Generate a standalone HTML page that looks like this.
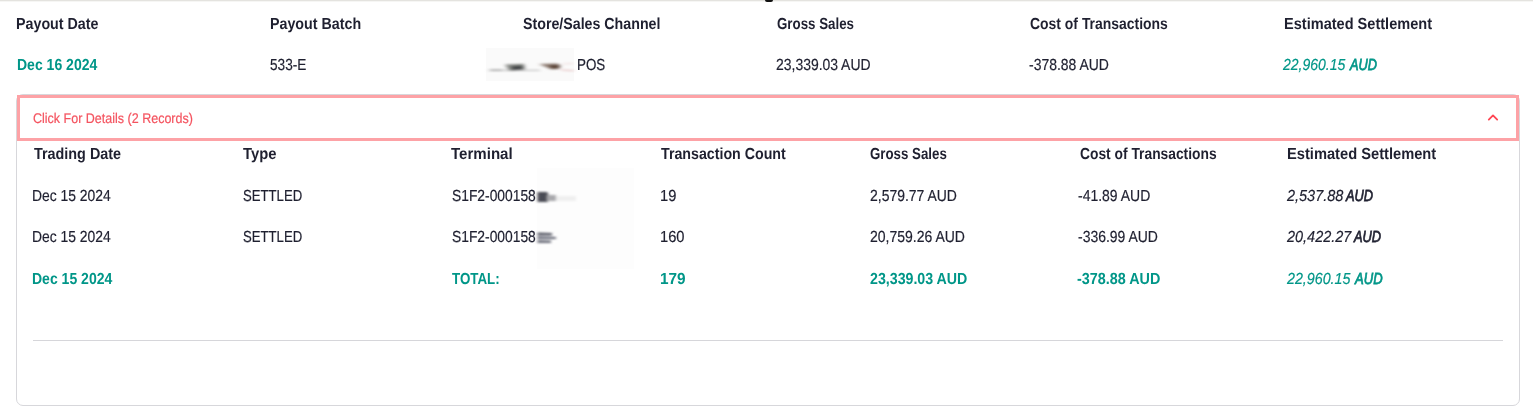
<!DOCTYPE html>
<html><head><meta charset="utf-8"><style>
html,body{margin:0;padding:0;background:#fff;}
body{width:1533px;height:412px;position:relative;overflow:hidden;font-family:"Liberation Sans",sans-serif;text-rendering:geometricPrecision;}
span{position:absolute;white-space:nowrap;transform-origin:0 0;}
.rg{-webkit-text-stroke:0.2px currentColor;}
.sb{-webkit-text-stroke:0.75px currentColor;}
.topbar{position:absolute;left:0;top:0;width:1533px;height:1px;background:#e4e3df;}
.topbar2{position:absolute;left:0;top:1px;width:1533px;height:1px;background:#f6f6f4;}
.blk{position:absolute;left:765px;top:0;width:8px;height:2px;background:#111;border-radius:0 0 2px 2px;}
.card{position:absolute;left:16px;top:94px;width:1502px;height:310px;border:1px solid #d7d7db;border-radius:7px;}
.pink{position:absolute;left:17px;top:95px;width:1496px;height:40px;border:3px solid #fda2a6;}
.hr{position:absolute;left:33px;top:340px;width:1470px;height:1px;background:#d6d6da;}
.blur1{position:absolute;left:486px;top:48px;width:88px;height:33px;background:#fafafa;}
.blur2{position:absolute;left:537px;top:168px;width:97px;height:101px;background:#fdfdfd;}
</style></head><body>
<div class="topbar"></div><div class="topbar2"></div><div class="blk"></div>
<div class="card"></div>
<div class="pink"></div>
<div class="blur1"></div>
<div class="blur2"></div>
<div class="hr"></div>
<svg style="position:absolute;left:0;top:0" width="1533" height="412">
 <polyline points="1488.8,119.6 1493,115.4 1497.2,119.6" fill="none" stroke="#ff4552" stroke-width="1.8" stroke-linecap="round" stroke-linejoin="round"/>
 <!-- blurred logo in row 2 -->
 <g filter="url(#bl)">
  <path d="M489,70.3 L540,70.3" stroke="#c4c4c4" stroke-width="1.2"/>
  <path d="M490,70.2 L502,70.2" stroke="#a0a0a0" stroke-width="1.4"/>
  <path d="M505,64.5 L524,63.8 L525,69.5 L509,70.8 Z" fill="#8a8c88"/>
  <path d="M511,66 L523,65.5 L523,69.8 L512,70.2 Z" fill="#44474a"/>
  <path d="M539,64 L557,63.4 L561,65.5 L559,69 L551,69.2 Z" fill="#8c7a70"/>
  <path d="M549,65 L559,64.8 L559,68.6 L551,68.8 Z" fill="#5c4438"/>
  <path d="M561,69.8 L574,70.8" stroke="#e2b8b8" stroke-width="1"/>
  <path d="M563,64 L573,63.5" stroke="#eedada" stroke-width="1"/>
 </g>
 <g filter="url(#bl2)">
  <path d="M537.5,192 L547,192 L549,195 L548,202 L537.5,202 Z" fill="#4a4b55"/>
  <path d="M547,195 L556,195 L556,201 L547,201 Z" fill="#a8a8ac"/>
  <path d="M556,196 L576,196 L576,201 L556,201 Z" fill="#efefef"/>
  <path d="M537.5,232.5 L552,233 L552,235.5 L537.5,235.5 Z" fill="#5a5c68"/>
  <path d="M537.5,236.5 L556,237 L556,239 L537.5,239 Z" fill="#646674"/>
  <path d="M537.5,240 L551,240.5 L551,243 L537.5,243 Z" fill="#70727e"/>
 </g>
 <defs><filter id="bl" x="-20%" y="-50%" width="140%" height="200%"><feGaussianBlur stdDeviation="1.9 0.9"/></filter><filter id="bl2" x="-20%" y="-50%" width="140%" height="200%"><feGaussianBlur stdDeviation="1.4 0.9"/></filter></defs>
</svg>
<span id="h1" style="left:16.00px;top:17.01px;font-size:16px;line-height:16px;font-weight:700;font-style:normal;color:#1f2030;transform:scaleX(0.8918)">Payout Date</span>
<span id="h2" style="left:269.60px;top:17.01px;font-size:16px;line-height:16px;font-weight:700;font-style:normal;color:#1f2030;transform:scaleX(0.8910)">Payout Batch</span>
<span id="h3" style="left:523.20px;top:17.01px;font-size:16px;line-height:16px;font-weight:700;font-style:normal;color:#1f2030;transform:scaleX(0.8882)">Store/Sales Channel</span>
<span id="h4" style="left:777.20px;top:17.01px;font-size:16px;line-height:16px;font-weight:700;font-style:normal;color:#1f2030;transform:scaleX(0.8320)">Gross Sales</span>
<span id="h5" style="left:1030.20px;top:17.01px;font-size:16px;line-height:16px;font-weight:700;font-style:normal;color:#1f2030;transform:scaleX(0.8712)">Cost of Transactions</span>
<span id="h6" style="left:1283.60px;top:17.01px;font-size:16px;line-height:16px;font-weight:700;font-style:normal;color:#1f2030;transform:scaleX(0.9095)">Estimated Settlement</span>
<span id="r1" style="left:16.60px;top:58.01px;font-size:16px;line-height:16px;font-weight:700;font-style:normal;color:#009688;transform:scaleX(0.8761)">Dec 16 2024</span>
<span id="r2" class="rg" style="left:269.80px;top:58.01px;font-size:16px;line-height:16px;font-weight:400;font-style:normal;color:#1f2030;transform:scaleX(0.8509)">533-E</span>
<span id="r3" class="rg" style="left:576.60px;top:58.01px;font-size:16px;line-height:16px;font-weight:400;font-style:normal;color:#1f2030;transform:scaleX(0.8358)">POS</span>
<span id="r4" class="rg" style="left:776.40px;top:58.01px;font-size:16px;line-height:16px;font-weight:400;font-style:normal;color:#1f2030;transform:scaleX(0.8713)">23,339.03 AUD</span>
<span id="r5" class="rg" style="left:1029.40px;top:58.01px;font-size:16px;line-height:16px;font-weight:400;font-style:normal;color:#1f2030;transform:scaleX(0.8717)">-378.88 AUD</span>
<span id="r6n" class="rg" style="left:1283.00px;top:58.01px;font-size:16px;line-height:16px;font-weight:400;font-style:italic;color:#009688;transform:scaleX(0.8747)">22,960.15</span>
<span id="r6a" class="sb" style="left:1350.00px;top:58.01px;font-size:16px;line-height:16px;font-weight:401;font-style:italic;color:#009688;transform:scaleX(0.7975)">AUD</span>
<span id="c1" class="rg" style="left:33.00px;top:111.01px;font-size:14px;line-height:14px;font-weight:400;font-style:normal;color:#f4535f;transform:scaleX(0.8938)">Click For Details (2 Records)</span>
<span id="s1" style="left:33.60px;top:147.00px;font-size:16px;line-height:16px;font-weight:700;font-style:normal;color:#1f2030;transform:scaleX(0.8981)">Trading Date</span>
<span id="s2" style="left:242.60px;top:147.00px;font-size:16px;line-height:16px;font-weight:700;font-style:normal;color:#1f2030;transform:scaleX(0.9235)">Type</span>
<span id="s3" style="left:451.40px;top:147.00px;font-size:16px;line-height:16px;font-weight:700;font-style:normal;color:#1f2030;transform:scaleX(0.9411)">Terminal</span>
<span id="s4" style="left:661.20px;top:147.00px;font-size:16px;line-height:16px;font-weight:700;font-style:normal;color:#1f2030;transform:scaleX(0.8885)">Transaction Count</span>
<span id="s5" style="left:869.80px;top:147.00px;font-size:16px;line-height:16px;font-weight:700;font-style:normal;color:#1f2030;transform:scaleX(0.8304)">Gross Sales</span>
<span id="s6" style="left:1079.60px;top:147.00px;font-size:16px;line-height:16px;font-weight:700;font-style:normal;color:#1f2030;transform:scaleX(0.8632)">Cost of Transactions</span>
<span id="s7" style="left:1287.20px;top:147.00px;font-size:16px;line-height:16px;font-weight:700;font-style:normal;color:#1f2030;transform:scaleX(0.9171)">Estimated Settlement</span>
<span id="d00" class="rg" style="left:32.40px;top:189.01px;font-size:16px;line-height:16px;font-weight:400;font-style:normal;color:#1f2030;transform:scaleX(0.8671)">Dec 15 2024</span>
<span id="d01" class="rg" style="left:242.80px;top:189.01px;font-size:16px;line-height:16px;font-weight:400;font-style:normal;color:#1f2030;transform:scaleX(0.8220)">SETTLED</span>
<span id="d02" class="rg" style="left:451.60px;top:189.01px;font-size:16px;line-height:16px;font-weight:400;font-style:normal;color:#1f2030;transform:scaleX(0.8639)">S1F2-000158</span>
<span id="d03" class="rg" style="left:659.80px;top:189.01px;font-size:16px;line-height:16px;font-weight:400;font-style:normal;color:#1f2030;transform:scaleX(0.9178)">19</span>
<span id="d04" class="rg" style="left:869.80px;top:189.01px;font-size:16px;line-height:16px;font-weight:400;font-style:normal;color:#1f2030;transform:scaleX(0.8720)">2,579.77 AUD</span>
<span id="d05" class="rg" style="left:1078.40px;top:189.01px;font-size:16px;line-height:16px;font-weight:400;font-style:normal;color:#1f2030;transform:scaleX(0.8734)">-41.89 AUD</span>
<span id="d06" class="rg" style="left:1287.00px;top:189.01px;font-size:16px;line-height:16px;font-weight:400;font-style:italic;color:#1f2030;transform:scaleX(0.9042)">2,537.88</span>
<span id="d0a" class="sb" style="left:1346.00px;top:189.01px;font-size:16px;line-height:16px;font-weight:401;font-style:italic;color:#1f2030;transform:scaleX(0.8027)">AUD</span>
<span id="d10" class="rg" style="left:32.40px;top:230.01px;font-size:16px;line-height:16px;font-weight:400;font-style:normal;color:#1f2030;transform:scaleX(0.8671)">Dec 15 2024</span>
<span id="d11" class="rg" style="left:242.80px;top:230.01px;font-size:16px;line-height:16px;font-weight:400;font-style:normal;color:#1f2030;transform:scaleX(0.8220)">SETTLED</span>
<span id="d12" class="rg" style="left:451.60px;top:230.01px;font-size:16px;line-height:16px;font-weight:400;font-style:normal;color:#1f2030;transform:scaleX(0.8639)">S1F2-000158</span>
<span id="d13" class="rg" style="left:659.80px;top:230.01px;font-size:16px;line-height:16px;font-weight:400;font-style:normal;color:#1f2030;transform:scaleX(0.9184)">160</span>
<span id="d14" class="rg" style="left:869.80px;top:230.01px;font-size:16px;line-height:16px;font-weight:400;font-style:normal;color:#1f2030;transform:scaleX(0.8751)">20,759.26 AUD</span>
<span id="d15" class="rg" style="left:1078.40px;top:230.01px;font-size:16px;line-height:16px;font-weight:400;font-style:normal;color:#1f2030;transform:scaleX(0.8717)">-336.99 AUD</span>
<span id="d16" class="rg" style="left:1287.00px;top:230.01px;font-size:16px;line-height:16px;font-weight:400;font-style:italic;color:#1f2030;transform:scaleX(0.9033)">20,422.27</span>
<span id="d1a" class="sb" style="left:1354.00px;top:230.01px;font-size:16px;line-height:16px;font-weight:401;font-style:italic;color:#1f2030;transform:scaleX(0.8027)">AUD</span>
<span id="d20" style="left:32.40px;top:272.00px;font-size:16px;line-height:16px;font-weight:700;font-style:normal;color:#009688;transform:scaleX(0.8761)">Dec 15 2024</span>
<span id="d22" style="left:451.60px;top:272.00px;font-size:16px;line-height:16px;font-weight:700;font-style:normal;color:#009688;transform:scaleX(0.8340)">TOTAL:</span>
<span id="d23" style="left:659.80px;top:272.00px;font-size:16px;line-height:16px;font-weight:700;font-style:normal;color:#009688;transform:scaleX(0.9600)">179</span>
<span id="d24" style="left:869.80px;top:272.00px;font-size:16px;line-height:16px;font-weight:700;font-style:normal;color:#009688;transform:scaleX(0.8873)">23,339.03 AUD</span>
<span id="d25" style="left:1077.40px;top:272.00px;font-size:16px;line-height:16px;font-weight:700;font-style:normal;color:#009688;transform:scaleX(0.8973)">-378.88 AUD</span>
<span id="d26" class="rg" style="left:1287.00px;top:272.00px;font-size:16px;line-height:16px;font-weight:400;font-style:italic;color:#009688;transform:scaleX(0.8905)">22,960.15</span>
<span id="d2a" class="sb" style="left:1355.00px;top:272.00px;font-size:16px;line-height:16px;font-weight:401;font-style:italic;color:#009688;transform:scaleX(0.8160)">AUD</span>
</body></html>
